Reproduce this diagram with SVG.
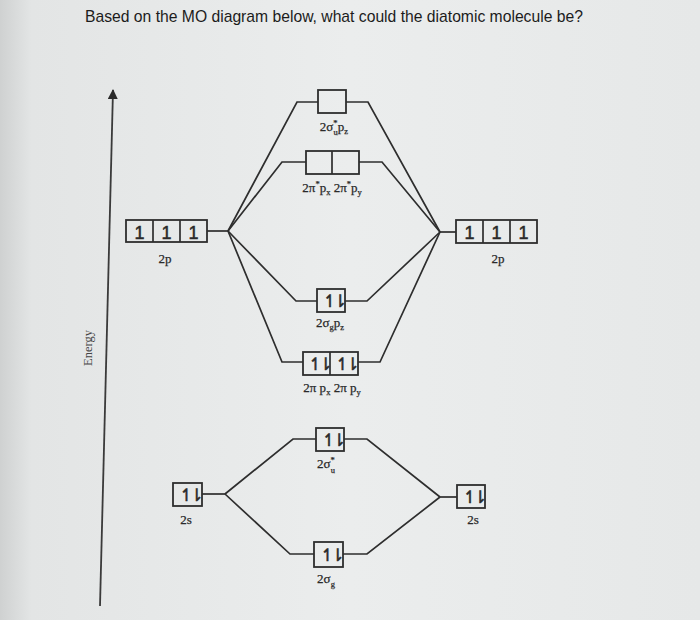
<svg xmlns="http://www.w3.org/2000/svg" width="700" height="620" viewBox="0 0 700 620">
<defs>
<linearGradient id="bg" x1="0" y1="0" x2="1" y2="0">
<stop offset="0" stop-color="#cfd1d1"/>
<stop offset="0.045" stop-color="#e3e5e5"/>
<stop offset="0.5" stop-color="#ebeded"/>
<stop offset="1" stop-color="#e6e8e8"/>
</linearGradient>
<marker id="ah" viewBox="0 0 10 10" refX="9" refY="5" markerWidth="10" markerHeight="10" orient="auto" markerUnits="userSpaceOnUse">
<path d="M0,0 L10,5 L0,10 z" fill="#2a2a2a"/>
</marker>
</defs>
<style>
.box{fill:none;stroke:#2e2e2e;stroke-width:1.8}
.ln{fill:none;stroke:#2e2e2e;stroke-width:1.7}
.lbl{font-family:"Liberation Serif","DejaVu Serif",serif;font-size:13px;fill:#2a2a2a;text-anchor:middle;stroke:#2a2a2a;stroke-width:0.25}
.sub{font-size:8.5px}
.e1{font-family:"Liberation Sans","DejaVu Sans",sans-serif;font-size:18px;fill:#2a2a2a;text-anchor:middle;stroke:#2a2a2a;stroke-width:0.5}
.e2{font-family:"DejaVu Sans",sans-serif;font-size:17px;fill:#2a2a2a;text-anchor:middle;letter-spacing:-4px;stroke:#2a2a2a;stroke-width:0.5}
.title{font-family:"Liberation Sans",Arial,sans-serif;font-size:15.7px;fill:#1c1c1c}
</style>
<rect width="700" height="620" fill="url(#bg)"/>
<text class="title" x="85" y="22">Based on the MO diagram below, what could the diatomic molecule be?</text>

<g id="axis">
<line x1="100" y1="606" x2="113" y2="90" stroke="#3a3a3a" stroke-width="1.8" marker-end="url(#ah)"/>
<text x="0" y="0" transform="translate(92,348) rotate(-90)" font-family="Liberation Serif,serif" font-size="12.5" fill="#444" text-anchor="middle">Energy</text>
</g>

<g id="connectors">
<polyline class="ln" points="207,231 228,231"/>
<polyline class="ln" points="228,231 297,102 318,102"/>
<polyline class="ln" points="228,231 282,162 306,162"/>
<polyline class="ln" points="228,231 296,301 317,301"/>
<polyline class="ln" points="228,231 282,362 303,362"/>
<polyline class="ln" points="456,232 440,232"/>
<polyline class="ln" points="440,232 368,102 346,102"/>
<polyline class="ln" points="440,232 382,162 359,162"/>
<polyline class="ln" points="440,232 367,301 345,301"/>
<polyline class="ln" points="440,232 380,362 358,362"/>
<polyline class="ln" points="202,494 225,494"/>
<polyline class="ln" points="225,494 293,439 316,439"/>
<polyline class="ln" points="225,494 290,554 314,554"/>
<polyline class="ln" points="457,497 440,497"/>
<polyline class="ln" points="440,497 367,439 344,439"/>
<polyline class="ln" points="440,497 367,554 343,554"/>
</g>

<g id="left-2p">
<rect class="box" x="126" y="220" width="81" height="22"/>
<line class="ln" x1="153" y1="220" x2="153" y2="242"/>
<line class="ln" x1="180" y1="220" x2="180" y2="242"/>
<text class="e1" x="139.5" y="239">1</text>
<text class="e1" x="166.5" y="239">1</text>
<text class="e1" x="193.5" y="239">1</text>
<text class="lbl" x="165" y="263">2p</text>
</g>

<g id="right-2p">
<rect class="box" x="456" y="220" width="81" height="23"/>
<line class="ln" x1="483" y1="220" x2="483" y2="243"/>
<line class="ln" x1="510" y1="220" x2="510" y2="243"/>
<text class="e1" x="469.5" y="239">1</text>
<text class="e1" x="496.5" y="239">1</text>
<text class="e1" x="523.5" y="239">1</text>
<text class="lbl" x="498" y="263">2p</text>
</g>

<g id="sigma-star-2pz">
<rect class="box" x="318" y="90" width="28" height="23"/>
<text class="lbl" x="334" y="131">2σ<tspan class="sub" dy="-5">*</tspan><tspan class="sub" dx="-4" dy="9">u</tspan><tspan dy="-4">p</tspan><tspan class="sub" dy="3">z</tspan></text>
</g>

<g id="pi-star-2p">
<rect class="box" x="306" y="151" width="53" height="23"/>
<line class="ln" x1="332" y1="151" x2="332" y2="174"/>
<text class="lbl" x="332" y="192">2π<tspan class="sub" dy="-5">*</tspan><tspan dy="5">p</tspan><tspan class="sub" dy="3">x</tspan><tspan dy="-3">  2π</tspan><tspan class="sub" dy="-5">*</tspan><tspan dy="5">p</tspan><tspan class="sub" dy="3">y</tspan></text>
</g>

<g id="sigma-2pz">
<rect class="box" x="317" y="289" width="28" height="23"/>
<text class="e2" x="333" y="307">↿⇂</text>
<text class="lbl" x="330" y="327">2σ<tspan class="sub" dy="3">g</tspan><tspan dy="-3">p</tspan><tspan class="sub" dy="3">z</tspan></text>
</g>

<g id="pi-2p">
<rect class="box" x="303" y="352" width="55" height="23"/>
<line class="ln" x1="330" y1="352" x2="330" y2="375"/>
<text class="e2" x="318.5" y="370">↿⇂</text>
<text class="e2" x="345.5" y="370">↿⇂</text>
<text class="lbl" x="332" y="392">2π p<tspan class="sub" dy="3">x</tspan><tspan dy="-3">  2π p</tspan><tspan class="sub" dy="3">y</tspan></text>
</g>

<g id="sigma-star-2s">
<rect class="box" x="316" y="428" width="28" height="23"/>
<text class="e2" x="332" y="446">↿⇂</text>
<text class="lbl" x="326" y="468">2σ<tspan class="sub" dy="-5">*</tspan><tspan class="sub" dx="-4" dy="10">u</tspan></text>
</g>

<g id="left-2s">
<rect class="box" x="173" y="483" width="29" height="23"/>
<text class="e2" x="189.5" y="501">↿⇂</text>
<text class="lbl" x="186" y="524">2s</text>
</g>

<g id="right-2s">
<rect class="box" x="457" y="485" width="28" height="23"/>
<text class="e2" x="473" y="503">↿⇂</text>
<text class="lbl" x="473" y="524">2s</text>
</g>

<g id="sigma-2s">
<rect class="box" x="314" y="542" width="29" height="25"/>
<text class="e2" x="330.5" y="561">↿⇂</text>
<text class="lbl" x="326" y="583">2σ<tspan class="sub" dy="4">g</tspan></text>
</g>
</svg>
